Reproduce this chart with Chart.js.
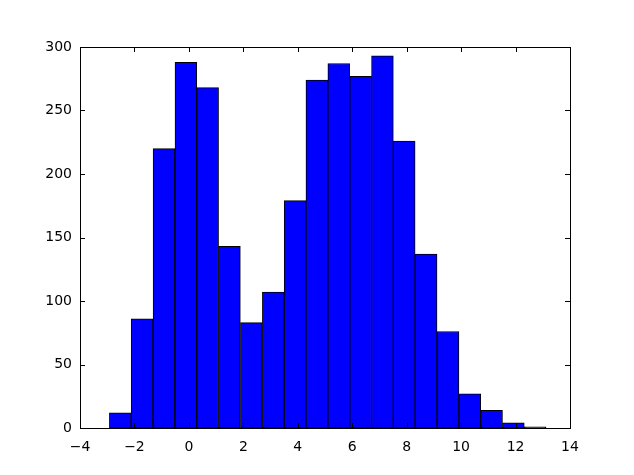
<!DOCTYPE html>
<html>
<head>
<meta charset="utf-8">
<script src="https://cdn.jsdelivr.net/npm/chart.js@4"></script>
<style>
  html, body { margin: 0; padding: 0; background: #fff; }
  #wrap { width: 634px; height: 475px; }
</style>
</head>
<body>
<div id="wrap"><canvas id="hist"></canvas></div>
<script>
// histogram bin edges and counts
const binEdges = [-2.92, -2.12, -1.32, -0.51, 0.29, 1.09, 1.89, 2.70, 3.50, 4.30, 5.10,
                  5.91, 6.71, 7.51, 8.31, 9.12, 9.92, 10.72, 11.52, 12.32, 13.12];
const counts = [12, 86, 220, 288, 268, 143, 83, 107, 179, 274, 287,
                277, 293, 226, 137, 76, 27, 14, 4, 1];
const xTicks = [-4, -2, 0, 2, 4, 6, 8, 10, 12, 14];
const yTicks = [0, 50, 100, 150, 200, 250, 300];

const points = counts.map((c, i) => ({ x: (binEdges[i] + binEdges[i + 1]) / 2, y: c }));

// matplotlib style box with inward ticks on all four sides
const boxTicks = {
    id: 'boxTicks',
    afterDraw(chart) {
        const { ctx, chartArea: a, scales } = chart;
        ctx.save();
        ctx.strokeStyle = '#000';
        ctx.lineWidth = 1;
        ctx.strokeRect(Math.round(a.left) + 0.5, Math.round(a.top) + 0.5,
                       Math.round(a.right - a.left), Math.round(a.bottom - a.top));
        ctx.beginPath();
        xTicks.forEach(v => {
            const px = Math.round(scales.x.getPixelForValue(v)) + 0.5;
            ctx.moveTo(px, a.bottom); ctx.lineTo(px, a.bottom - 5);
            ctx.moveTo(px, a.top); ctx.lineTo(px, a.top + 5);
        });
        yTicks.forEach(v => {
            const py = Math.round(scales.y.getPixelForValue(v)) + 0.5;
            ctx.moveTo(a.left, py); ctx.lineTo(a.left + 5, py);
            ctx.moveTo(a.right, py); ctx.lineTo(a.right - 5, py);
        });
        ctx.stroke();
        ctx.restore();
    }
};

new Chart(document.getElementById('hist').getContext('2d'), {
    type: 'bar',
    data: {
        datasets: [{
            data: points,
            backgroundColor: '#0000ff',
            borderColor: '#000',
            borderWidth: 1,
            borderSkipped: false,
            barPercentage: 1,
            categoryPercentage: 1
        }]
    },
    options: {
        responsive: true,
        maintainAspectRatio: false,
        animation: false,
        layout: { padding: { top: 47, right: 64, left: 0, bottom: 0 } },
        plugins: { legend: { display: false }, tooltip: { enabled: false } },
        scales: {
            x: {
                type: 'linear',
                offset: false,
                min: -4, max: 14,
                afterBuildTicks: s => { s.ticks = xTicks.map(v => ({ value: v })); },
                afterFit: s => { s.height = 47; },
                grid: { display: false, offset: false },
                border: { display: false },
                ticks: {
                    color: '#000', padding: 3,
                    font: { family: 'DejaVu Sans', size: 14 },
                    callback: v => String(v).replace('-', '\u2212')
                }
            },
            y: {
                min: 0, max: 300,
                afterBuildTicks: s => { s.ticks = yTicks.map(v => ({ value: v })); },
                afterFit: s => { s.width = 80; },
                grid: { display: false },
                border: { display: false },
                ticks: {
                    color: '#000', padding: 0,
                    font: { family: 'DejaVu Sans', size: 14 }
                }
            }
        }
    },
    plugins: [boxTicks]
});
</script>
</body>
</html>
